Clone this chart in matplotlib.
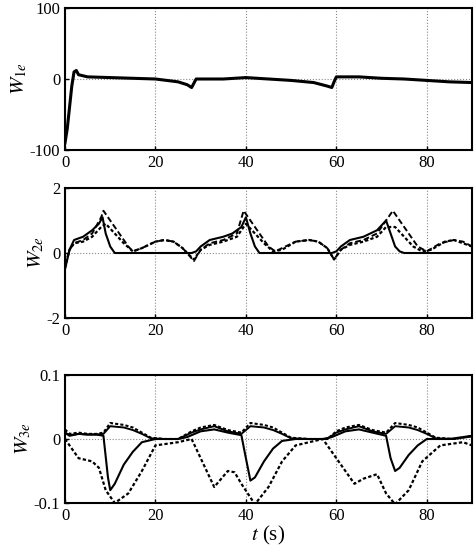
import matplotlib
matplotlib.use("Agg")
import matplotlib.pyplot as plt

plt.rcParams['font.family'] = ['Liberation Serif', 'DejaVu Serif']
plt.rcParams['mathtext.fontset'] = 'stix'

# Panel 1
t1 = [0, 0.5, 1, 1.5, 2, 2.5, 3, 5, 10, 15, 20, 25, 27, 28, 28.5, 29, 35, 40, 45, 50, 55, 58, 59, 59.5, 60, 65, 70, 75, 80, 85, 90]
w1 = [-90, -70, -40, -10, 10, 12, 6, 3, 2, 1, 0, -4, -8, -12, -6, 0, 0, 2, 0, -2, -5, -10, -12, -4, 3, 3, 1, 0, -2, -4, -5]

# Panel 2
t2s = [0, 0.5, 1, 2, 4, 6, 7.5, 8.3, 9, 10, 11, 28, 29, 30, 32, 35, 37, 39, 40, 41, 42, 43, 59, 60, 61, 63, 66, 69, 71, 72, 73, 74, 75, 90]
w2s = [-0.5, -0.2, 0.1, 0.4, 0.5, 0.7, 0.9, 1.1, 0.6, 0.2, 0, 0, 0.05, 0.2, 0.4, 0.5, 0.6, 0.8, 1.1, 0.6, 0.2, 0, 0, 0.05, 0.2, 0.4, 0.5, 0.7, 1.0, 0.6, 0.2, 0.05, 0, 0]
t2d = [0, 1, 2, 4, 6, 8, 8.5, 10, 12, 14, 15, 17, 20, 22, 24, 26, 27, 28.5, 30, 32, 35, 38, 39.5, 41, 43, 45, 46.5, 48, 51, 54, 56, 58, 59.5, 61, 63, 66, 69, 71, 72.5, 74, 76, 78, 80, 83, 86, 88, 90]
w2d = [-0.4, 0.1, 0.3, 0.4, 0.6, 1.1, 1.3, 1.0, 0.6, 0.2, 0.05, 0.15, 0.35, 0.4, 0.35, 0.15, 0.0, -0.25, 0.1, 0.3, 0.4, 0.6, 1.3, 1.0, 0.6, 0.2, 0.05, 0.15, 0.35, 0.4, 0.35, 0.15, -0.2, 0.1, 0.3, 0.4, 0.6, 1.0, 1.3, 1.0, 0.6, 0.2, 0.05, 0.3, 0.4, 0.35, 0.2]
t2o = [0, 1, 2, 4, 6, 8, 9, 11, 13, 15, 17, 20, 22, 24, 26, 27, 28.5, 30, 32, 35, 38, 40, 42, 44, 46, 48, 51, 54, 56, 58, 59.5, 61, 63, 66, 69, 71, 73, 75, 77, 79, 81, 84, 86, 88, 90]
w2o = [-0.45, 0.1, 0.3, 0.35, 0.5, 0.8, 0.9, 0.6, 0.3, 0.05, 0.15, 0.35, 0.4, 0.35, 0.15, 0.0, -0.2, 0.1, 0.25, 0.35, 0.5, 0.9, 0.6, 0.3, 0.05, 0.1, 0.35, 0.4, 0.35, 0.15, -0.2, 0.1, 0.25, 0.35, 0.5, 0.8, 0.8, 0.5, 0.2, 0.05, 0.1, 0.35, 0.4, 0.3, 0.2]

# Panel 3
t3s = [0, 1, 3, 5, 7, 8.5, 9.5, 10, 11, 13, 15, 17, 20, 25, 27, 30, 33, 36, 39, 40, 41, 42, 44, 46, 48, 51, 57, 59, 62, 65, 68, 71, 72, 73, 74, 76, 78, 80, 85, 90]
w3s = [0.01, 0.005, 0.008, 0.007, 0.007, 0.005, -0.06, -0.08, -0.07, -0.04, -0.02, -0.005, 0, 0, 0.003, 0.012, 0.015, 0.01, 0.006, -0.03, -0.065, -0.06, -0.035, -0.015, -0.003, 0, 0, 0.003, 0.012, 0.015, 0.01, 0.005, -0.03, -0.05, -0.045, -0.025, -0.01, 0, 0, 0.005]
t3u = [0, 1, 3, 5, 7, 8.5, 10, 13, 15, 17, 19, 22, 25, 28, 30, 33, 36, 39, 41, 44, 46, 48, 50, 54, 58, 60, 62, 65, 68, 71, 73, 76, 78, 80, 82, 86, 90]
w3u = [0.01, 0.006, 0.008, 0.007, 0.007, 0.008, 0.02, 0.018, 0.014, 0.008, 0.001, 0, 0, 0.01, 0.015, 0.02, 0.012, 0.008, 0.02, 0.018, 0.014, 0.008, 0.001, 0, 0, 0.01, 0.015, 0.02, 0.012, 0.008, 0.02, 0.018, 0.014, 0.008, 0.001, 0, 0.004]
t3o = [0, 1, 3, 5, 7, 8.5, 10, 13, 15, 17, 19, 22, 25, 28, 30, 33, 36, 39, 41, 44, 46, 48, 50, 54, 58, 60, 62, 65, 68, 71, 73, 76, 78, 80, 82, 86, 90]
w3o = [0.015, 0.008, 0.01, 0.008, 0.008, 0.01, 0.025, 0.022, 0.018, 0.01, 0.002, 0, 0, 0.012, 0.018, 0.022, 0.014, 0.01, 0.025, 0.022, 0.018, 0.01, 0.002, 0, 0, 0.012, 0.018, 0.022, 0.014, 0.01, 0.025, 0.022, 0.018, 0.01, 0.002, 0, 0.005]
t3d = [0, 1, 3, 6, 7.5, 9, 11, 14, 17, 20, 25, 28, 30, 33, 36, 37.5, 39, 42, 45, 48, 51, 57, 60, 64, 66, 69, 71, 73, 76, 79, 83, 88, 90]
w3d = [0, -0.01, -0.03, -0.035, -0.045, -0.08, -0.1, -0.085, -0.05, -0.01, -0.005, 0, -0.03, -0.075, -0.05, -0.052, -0.07, -0.102, -0.075, -0.035, -0.01, 0, -0.03, -0.07, -0.062, -0.055, -0.085, -0.102, -0.08, -0.035, -0.01, -0.005, -0.01]

fig = plt.figure(figsize=(4.74, 5.5), dpi=100)
L, W = 65/474, 407/474
boxes = [(8, 150), (188, 318), (375, 503)]
axes = []
for (top, bot) in boxes:
    axes.append(fig.add_axes([L, 1 - bot/550, W, (bot - top)/550]))

ylims = [(-100, 100), (-2, 2), (-0.1, 0.1)]
yticks = [[-100, 0, 100], [-2, 0, 2], [-0.1, 0, 0.1]]
ytl = [['-100', '0', '100'], ['-2', '0', '2'], ['-0.1', '0', '0.1']]
labels = [r'$W_{1e}$', r'$W_{2e}$', r'$W_{3e}$']

for ax, yl, yt, ytls, lab in zip(axes, ylims, yticks, ytl, labels):
    ax.set_xlim(0, 90)
    ax.set_ylim(*yl)
    ax.set_xticks([0, 20, 40, 60, 80])
    ax.set_yticks(yt)
    ax.set_yticklabels(ytls)
    ax.tick_params(direction='in', length=3, labelsize=12, width=1)
    ax.grid(True, color='#888888', linestyle=':', linewidth=0.8)
    for s in ax.spines.values():
        s.set_linewidth(1.5)
    ax.set_ylabel(lab, fontsize=15, labelpad=0)

axes[0].plot(t1, w1, color='black', lw=2.2)

axes[1].plot(t2o, w2o, color='black', lw=1.6, ls=(0, (1.5, 1)))
axes[1].plot(t2d, w2d, color='black', lw=1.4, ls=(0, (3, 1.5)))
axes[1].plot(t2s, w2s, color='black', lw=1.5)

axes[2].plot(t3o, w3o, color='black', lw=1.5, ls=(0, (1.5, 1)))
axes[2].plot(t3u, w3u, color='black', lw=1.4)
axes[2].plot(t3d, w3d, color='black', lw=1.6, ls=(0, (1.5, 1)))
axes[2].plot(t3s, w3s, color='black', lw=1.5)
axes[2].set_xlabel(r'$t$ (s)', fontsize=15, labelpad=0)

fig.savefig('out.png', dpi=100)
